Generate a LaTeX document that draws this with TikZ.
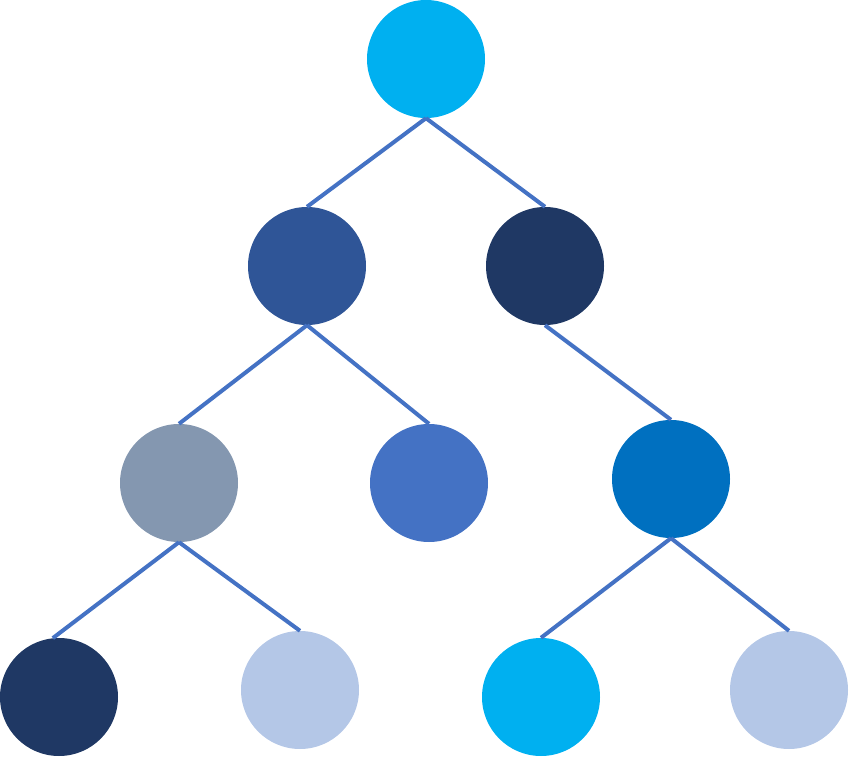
\documentclass[tikz,border=0pt]{standalone}
\definecolor{cA}{HTML}{00B0F0}
\definecolor{cB}{HTML}{2F5597}
\definecolor{cC}{HTML}{1F3864}
\definecolor{cD}{HTML}{8497B0}
\definecolor{cE}{HTML}{4472C4}
\definecolor{cF}{HTML}{0070C0}
\definecolor{cG}{HTML}{B4C7E7}
\definecolor{edgec}{HTML}{4472C4}
\tikzset{
  ball/.style={circle, inner sep=0pt, minimum size=118pt, draw=none},
  edge/.style={draw=edgec, line width=4pt}
}
\begin{document}
\begin{tikzpicture}[x=1pt,y=-1pt]
\useasboundingbox (0,0) rectangle (849,757);
\node[ball, fill=cA] (root) at (426,59) {};
\node[ball, fill=cB] (l) at (307,266) {};
\node[ball, fill=cC] (r) at (545,266) {};
\node[ball, fill=cD] (ll) at (179,483) {};
\node[ball, fill=cE] (lr) at (429,483) {};
\node[ball, fill=cF] (rr) at (671,479) {};
\node[ball, fill=cC] (lll) at (59,697) {};
\node[ball, fill=cG] (llr) at (300,690) {};
\node[ball, fill=cA] (rrl) at (541,697) {};
\node[ball, fill=cG] (rrr) at (789,690) {};
\draw[edge] (root.south) -- (l.north);
\draw[edge] (root.south) -- (r.north);
\draw[edge] (l.south) -- (ll.north);
\draw[edge] (l.south) -- (lr.north);
\draw[edge] (r.south) -- (rr.north);
\draw[edge] (ll.south) -- (lll.96);
\draw[edge] (ll.south) -- (llr.north);
\draw[edge] (rr.south) -- (rrl.north);
\draw[edge] (rr.south) -- (rrr.north);
\end{tikzpicture}
\end{document}
